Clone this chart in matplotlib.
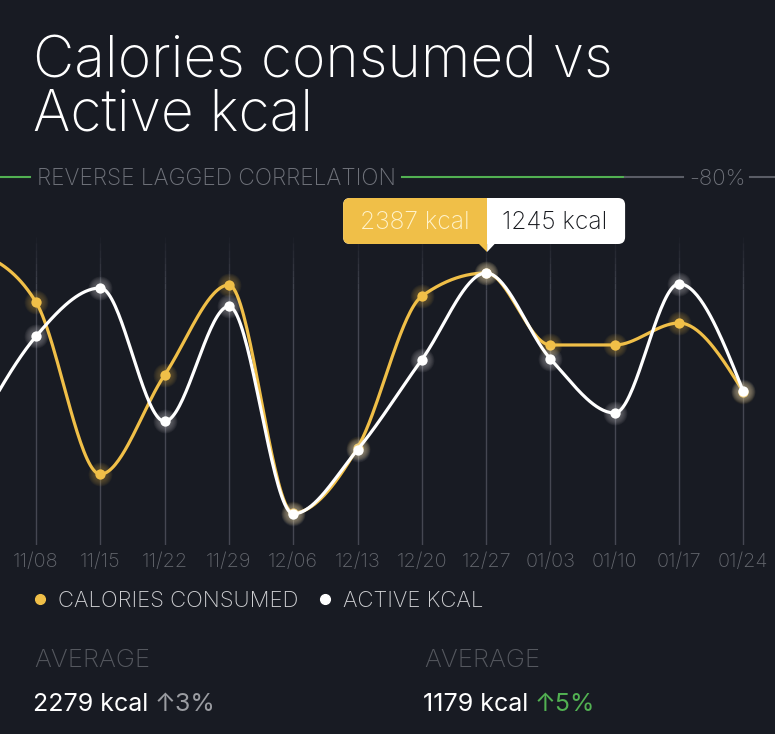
import numpy as np
import matplotlib.pyplot as plt
from matplotlib.patches import FancyBboxPatch, Rectangle, Polygon
from matplotlib.lines import Line2D
from matplotlib.collections import LineCollection
import matplotlib.transforms as mtransforms

plt.rcParams['font.family'] = ['Inter', 'DejaVu Sans']
plt.rcParams['font.weight'] = 'light'

# weekly values, first one (11/01) sits just left of the visible window
dates = ['11/08', '11/15', '11/22', '11/29', '12/06', '12/13',
         '12/20', '12/27', '01/03', '01/10', '01/17', '01/24']
calories = [2445, 2314, 1884, 2132, 2357, 1787, 1950, 2329, 2387, 2207, 2207, 2262, 2090]
active = [1045, 1169, 1227, 1067, 1205, 956, 1033, 1141, 1245, 1142, 1077, 1232, 1103]
tip_date = '12/27'
correlation = -80
avg_calories, avg_calories_change = 2279, 3
avg_active, avg_active_change = 1179, 5

BG = '#181b23'
YELLOW = '#f0bf48'
GREEN = '#52b152'
W, H = 775, 734


def monotone_x(y, n=40):
    # same shape as d3.curveMonotoneX
    y = np.asarray(y, float)
    s = np.diff(y)
    t = np.zeros(len(y))
    for i in range(1, len(y) - 1):
        s0, s1 = s[i - 1], s[i]
        p = (s0 + s1) / 2
        t[i] = (np.sign(s0) + np.sign(s1)) * min(abs(s0), abs(s1), 0.5 * abs(p))
    t[0] = (3 * s[0] - t[1]) / 2
    t[-1] = (3 * s[-1] - t[-2]) / 2
    u = np.linspace(0, 1, n)
    h00 = 2 * u**3 - 3 * u**2 + 1
    h10 = u**3 - 2 * u**2 + u
    h01 = -2 * u**3 + 3 * u**2
    h11 = u**3 - u**2
    xs, ys = [], []
    for i in range(len(y) - 1):
        xs.append(i + u)
        ys.append(h00 * y[i] + h10 * t[i] + h01 * y[i + 1] + h11 * t[i + 1])
    return np.concatenate(xs) - 1, np.concatenate(ys)


fig = plt.figure(figsize=(W / 100, H / 100), dpi=100, facecolor=BG)

# chart area: pixel rows 190..545, column i at 36 + 64.3*i
ax = fig.add_axes([0, 1 - 545 / H, 1, 355 / H])
ax.set_facecolor('none')
ax.set_xlim(-36 / 64.3, (W - 36) / 64.3)
ax.set_ylim(1707, 2594.5)
ax2 = ax.twinx()
ax2.set_ylim(918.6, 1344.6)
for a in (ax, ax2):
    for sp in a.spines.values():
        sp.set_visible(False)
    a.set_yticks([])
ax.set_xticks(range(len(dates)))
ax.set_xticklabels(dates)
ax.tick_params(axis='x', length=0, pad=6, labelsize=14.3, labelcolor='#65686f')

# vertical grid lines, fading out at the top
trans = mtransforms.blended_transform_factory(ax.transData, ax.transAxes)
segs, cols = [], []
edges = np.linspace(0.72, 0.868, 9)
for i in range(len(dates)):
    segs.append([(i, 0), (i, 0.72)])
    cols.append((0.27, 0.28, 0.32, 1.0))
    for k in range(len(edges) - 1):
        segs.append([(i, edges[k]), (i, edges[k + 1])])
        cols.append((0.27, 0.28, 0.32, 1 - (k + 1) / len(edges)))
ax.add_collection(LineCollection(segs, colors=cols, linewidths=1, transform=trans, zorder=0))

xi = np.arange(len(calories)) - 1


def draw_series(a, vals, color):
    cx, cy = monotone_x(vals)
    a.plot(cx, cy, color=color, lw=2.3, solid_capstyle='round', zorder=2)
    px, py = xi[1:], vals[1:]
    # soft glow: a few faint discs
    for s in np.linspace(300, 60, 9):
        a.scatter(px, py, s=s, color=color, alpha=0.04, lw=0, zorder=3)
    a.scatter(px, py, s=55, color=color, lw=0, zorder=4)


draw_series(ax, calories, YELLOW)
draw_series(ax2, active, 'white')

# overlay in pixel coordinates for the text and tooltip
ov = fig.add_axes([0, 0, 1, 1], zorder=5)
ov.set_xlim(0, W)
ov.set_ylim(H, 0)
ov.axis('off')

ov.text(33, 77, 'Calories consumed vs', color='white', fontsize=41)
ov.text(33, 130, 'Active kcal', color='white', fontsize=41)

# correlation bar
green_end = 625
ov.plot([0, 30], [177, 177], color=GREEN, lw=1.5)
ov.plot([402, green_end], [177, 177], color=GREEN, lw=1.5)
ov.plot([green_end, 683], [177, 177], color='#5a5d66', lw=1.5)
ov.plot([750, W], [177, 177], color='#5a5d66', lw=1.5)
ov.text(37, 185, 'REVERSE LAGGED CORRELATION', color='#6f727a', fontsize=16.4)
ov.text(689, 185, f'{correlation}%', color='#6f727a', fontsize=16)

# tooltip anchored to the 12/27 point
k = dates.index(tip_date) + 1
disp = ax.transData.transform((xi[k], calories[k]))
tx, ty = ov.transData.inverted().transform(disp)
top, bot = ty - 75, ty - 29
left, right = tx - 143, tx + 139
ov.add_patch(FancyBboxPatch((left, top), right - left, bot - top,
                            boxstyle='round,pad=0,rounding_size=7', fc='white', ec='none'))
ov.add_patch(FancyBboxPatch((left, top), tx + 10 - left, bot - top,
                            boxstyle='round,pad=0,rounding_size=7', fc=YELLOW, ec='none'))
ov.add_patch(Rectangle((tx + 1, top), 12, bot - top, fc='white', ec='none'))
ov.add_patch(Polygon([(tx - 8, bot - 0.5), (tx + 1, bot - 0.5), (tx + 1, ty - 21)], fc=YELLOW, ec='none'))
ov.add_patch(Polygon([(tx + 1, bot - 0.5), (tx + 9, bot - 0.5), (tx + 1, ty - 21)], fc='white', ec='none'))
ov.text(left + 17, bot - 15, f'{calories[k]} kcal', color='#fff3cc', fontsize=17.7)
ov.text(tx + 16, bot - 15, f'{active[k]} kcal', color='#16181d', fontsize=17.7)

# legend
handles = [Line2D([], [], marker='o', ls='none', color=YELLOW, markersize=7),
           Line2D([], [], marker='o', ls='none', color='white', markersize=7)]
ov.legend(handles, ['CALORIES CONSUMED', 'ACTIVE KCAL'], loc='center left',
          bbox_to_anchor=(31 / W, 1 - 601 / H), bbox_transform=fig.transFigure,
          frameon=False, ncol=2, handlelength=0.8, handletextpad=0.4,
          columnspacing=0.85, borderpad=0, borderaxespad=0, fontsize=15.9,
          labelcolor='#cfd0d3')

# averages
renderer = fig.canvas.get_renderer()
for x0, val, chg, chg_color in [(33, avg_calories, avg_calories_change, '#9a9ca1'),
                                (423, avg_active, avg_active_change, GREEN)]:
    ov.text(x0 + 1, 667, 'AVERAGE', color='#55585f', fontsize=18.5)
    t1 = ov.text(x0, 711, f'{val} kcal', color='white', fontsize=18, fontweight='normal')
    bb = t1.get_window_extent(renderer)
    x1 = ov.transData.inverted().transform((bb.x1, bb.y0))[0]
    ov.text(x1 + 6, 711, f'\u2191{chg}%', color=chg_color, fontsize=18, fontweight='normal')

fig.savefig('out.png', dpi=100, facecolor=BG)
